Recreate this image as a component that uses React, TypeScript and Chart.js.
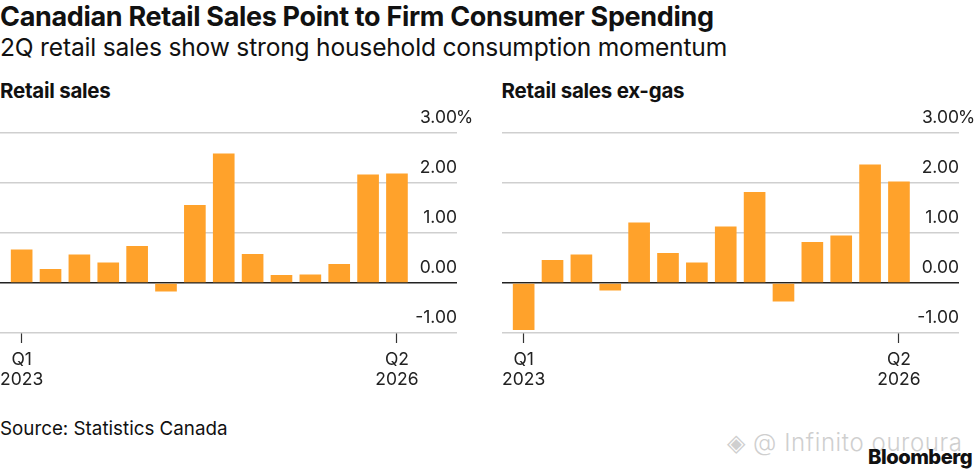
import { useEffect, useRef } from "react";
import { Chart, registerables } from "chart.js";

Chart.register(...registerables);

const quarters = [
  "Q1 2023", "Q2 2023", "Q3 2023", "Q4 2023",
  "Q1 2024", "Q2 2024", "Q3 2024", "Q4 2024",
  "Q1 2025", "Q2 2025", "Q3 2025", "Q4 2025",
  "Q1 2026", "Q2 2026",
];
const retailSales = [0.67, 0.28, 0.57, 0.41, 0.74, -0.17, 1.56, 2.59, 0.58, 0.16, 0.17, 0.38, 2.17, 2.19];
const retailExGas = [-0.94, 0.46, 0.57, -0.15, 1.21, 0.6, 0.41, 1.13, 1.82, -0.37, 0.82, 0.95, 2.37, 2.03];
const shownQuarters = [0, 13];

const FONT = "Inter, 'Liberation Sans', sans-serif";
const ORANGE = "#FFA22B";
const INK = "#111";

// "%" hangs past the right edge on the top tick only
const percentSign = {
  id: "percentSign",
  afterDraw(chart: Chart) {
    const { ctx, scales } = chart;
    ctx.save();
    ctx.font = `17.5px ${FONT}`;
    ctx.fillStyle = "#222";
    ctx.textBaseline = "middle";
    ctx.fillText("%", scales.y.right - 1, scales.y.getPixelForValue(3) - 15);
    ctx.restore();
  },
};

const Panel = ({ values, left }: { values: number[]; left: number }) => {
  const canvasRef = useRef<HTMLCanvasElement>(null);
  useEffect(() => {
    const chart = new Chart(canvasRef.current!, {
      type: "bar",
      data: {
        datasets: [
          {
            data: values.map((y, i) => ({ x: i, y })),
            backgroundColor: ORANGE,
            barPercentage: 0.75,
            categoryPercentage: 1,
          },
        ],
      },
      options: {
        animation: false,
        responsive: false,
        layout: { padding: { top: 33, right: 17, left: 0, bottom: 0 } },
        plugins: { legend: { display: false }, tooltip: { enabled: false } },
        scales: {
          x: {
            type: "linear",
            offset: false,
            min: -0.75,
            max: 15.08,
            grid: { offset: false, drawOnChartArea: false, tickColor: "#333", tickLength: 10, tickWidth: 1.2 },
            border: { display: false },
            afterBuildTicks: (scale) => {
              scale.ticks = shownQuarters.map((value) => ({ value }));
            },
            afterFit: (scale) => {
              scale.height = 67;
              scale.paddingLeft = 0;
              scale.paddingRight = 0;
            },
            ticks: {
              autoSkip: false,
              maxRotation: 0,
              padding: 6,
              color: "#222",
              font: { family: FONT, size: 17.5, lineHeight: 1.17 },
              callback: (value) => quarters[Number(value)].split(" "),
            },
          },
          y: {
            position: "right",
            min: -1,
            max: 3,
            grid: {
              drawTicks: false,
              lineWidth: 1.5,
              color: (c) => (c.tick.value === 0 ? "#222" : "#cfcfcf"),
            },
            border: { display: false },
            afterFit: (scale) => {
              scale.width = 0;
            },
            ticks: {
              mirror: true,
              padding: 0,
              stepSize: 1,
              labelOffset: -15,
              color: "#222",
              font: { family: FONT, size: 17.5 },
              callback: (value) => Number(value).toFixed(2),
            },
          },
        },
      },
      plugins: [percentSign],
    });

    return () => {
      chart.destroy();
    };
  }, [values]);

  return (
    <canvas
      ref={canvasRef}
      width={474}
      height={300}
      style={{ position: "absolute", left, top: 100 }}
    />
  );
};

const text = (left: number, top: number, size: number, weight = 400, extra = {}) => ({
  position: "absolute" as const,
  left,
  top,
  fontSize: size,
  fontWeight: weight,
  fontFamily: FONT,
  color: INK,
  whiteSpace: "nowrap" as const,
  lineHeight: 1,
  ...extra,
});

const App = () => {
  return (
    <div style={{ position: "absolute", left: 0, top: 0, width: 974, height: 469, overflow: "hidden", background: "#fff" }}>
      <div style={text(0, 3, 27, 700, { letterSpacing: -0.33 })}>Canadian Retail Sales Point to Firm Consumer Spending</div>
      <div style={text(0, 35, 24.6, 400, { letterSpacing: -0.2 })}>2Q retail sales show strong household consumption momentum</div>
      <div style={text(0, 81, 20.5, 700, { letterSpacing: -0.25 })}>Retail sales</div>
      <div style={text(501.5, 81, 20.5, 700, { letterSpacing: -0.25 })}>Retail sales ex-gas</div>
      <Panel values={retailSales} left={0} />
      <Panel values={retailExGas} left={501.5} />
      <div style={text(0, 420, 18.8)}>Source: Statistics Canada</div>
      <div style={text(727, 431, 24, 300, { color: "#cfcfcf", letterSpacing: 0.6 })}>◈ @ Infinito ouroura</div>
      <div style={text(868, 447, 20.2, 800, { letterSpacing: -0.5 })}>Bloomberg</div>
    </div>
  );
};

export default App;
